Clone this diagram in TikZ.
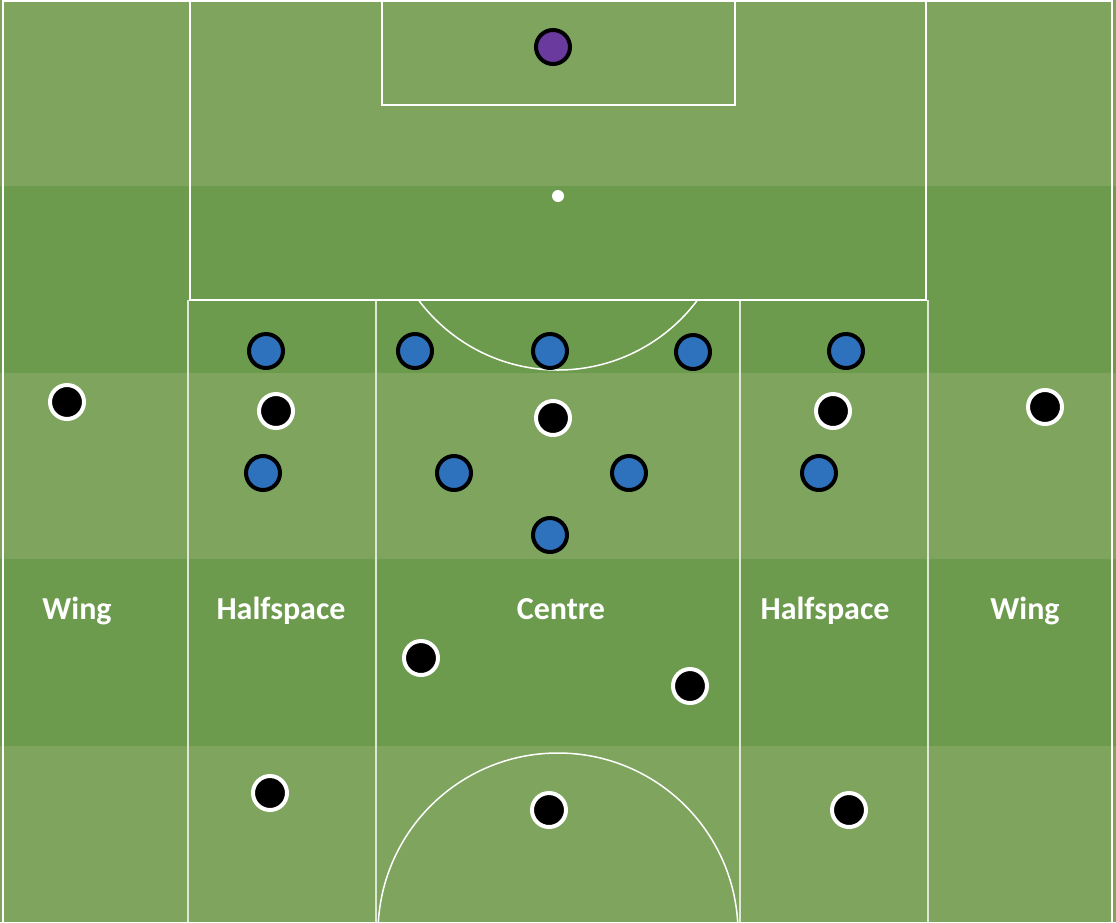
\documentclass[tikz,border=0pt]{standalone}
\usepackage{fontspec}
\setmainfont{Carlito}
\definecolor{lightgrass}{RGB}{126,164,94}
\definecolor{darkgrass}{RGB}{109,155,78}
\definecolor{teamblue}{RGB}{46,114,190}
\definecolor{keeperpurple}{RGB}{106,58,158}
\definecolor{laneline}{RGB}{222,230,214}
\begin{document}
\begin{tikzpicture}[x=1pt,y=-1pt,
    pitchline/.style={white,line width=2pt},
    lane/.style={laneline,line width=2pt},
    blueplayer/.style={circle,draw=black,line width=4pt,fill=teamblue,minimum size=34pt,inner sep=0pt},
    keeper/.style={blueplayer,fill=keeperpurple},
    blackplayer/.style={circle,draw=white,line width=4pt,fill=black,minimum size=34pt,inner sep=0pt},
    zonelabel/.style={white,anchor=base,font=\fontsize{32}{32}\selectfont\bfseries}]
    \useasboundingbox (0,0) rectangle (1116,922);
    % stripes
    \fill[lightgrass] (0,0) rectangle (1116,186);
    \fill[darkgrass] (0,186) rectangle (1116,373);
    \fill[lightgrass] (0,373) rectangle (1116,559);
    \fill[darkgrass] (0,559) rectangle (1116,746);
    \fill[lightgrass] (0,746) rectangle (1116,922);
    % lanes
    \draw[lane] (188,300) -- (188,922);
    \draw[lane] (376,300) -- (376,922);
    \draw[lane] (740,300) -- (740,922);
    \draw[lane] (928,300) -- (928,922);
    % pitch markings
    \draw[pitchline] (3,922) -- (3,1) -- (1112,1) -- (1112,922);
    \draw[pitchline] (190,0) rectangle (926,300);
    \draw[pitchline] (382,0) rectangle (735,105);
    \fill[white] (558,196) circle (6);
    \begin{scope}
        \clip (190,300) rectangle (926,400);
        \draw[pitchline,line width=1.5pt] (558,196) circle (174);
    \end{scope}
    \draw[pitchline,line width=1.5pt] (558,933) circle (180);
    % zone labels
    \node[zonelabel] (wingL) at (77,619) {Wing};
    \node[zonelabel] (halfL) at (281,619) {Halfspace};
    \node[zonelabel] (centre) at (561,619) {Centre};
    \node[zonelabel] (halfR) at (825,619) {Halfspace};
    \node[zonelabel] (wingR) at (1025,619) {Wing};
    % defending side
    \node[keeper] (gk) at (553,47) {};
    \node[blueplayer] (d1) at (266,351) {};
    \node[blueplayer] (d2) at (415,351) {};
    \node[blueplayer] (d3) at (550,351) {};
    \node[blueplayer] (d4) at (693,352) {};
    \node[blueplayer] (d5) at (846,351) {};
    \node[blueplayer] (m1) at (263,473) {};
    \node[blueplayer] (m2) at (454,473) {};
    \node[blueplayer] (m3) at (629,473) {};
    \node[blueplayer] (m4) at (819,473) {};
    \node[blueplayer] (s1) at (550,535) {};
    % attacking side
    \node[blackplayer] (a1) at (67,402) {};
    \node[blackplayer] (a2) at (276,411) {};
    \node[blackplayer] (a3) at (553,418) {};
    \node[blackplayer] (a4) at (833,411) {};
    \node[blackplayer] (a5) at (1045,407) {};
    \node[blackplayer] (b1) at (421,658) {};
    \node[blackplayer] (b2) at (690,686) {};
    \node[blackplayer] (c1) at (270,793) {};
    \node[blackplayer] (c2) at (549,810) {};
    \node[blackplayer] (c3) at (849,810) {};
\end{tikzpicture}
\end{document}
